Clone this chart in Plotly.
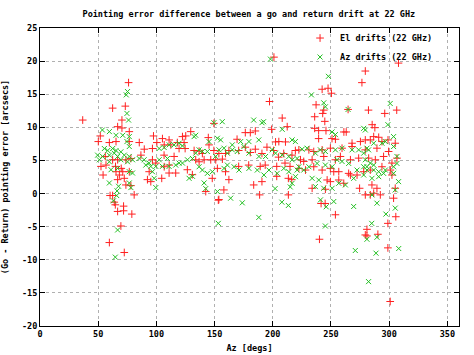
import plotly.graph_objects as go

# El drifts (red +): azimuth [deg], pointing error difference [arcsec]
el_az = [36.7, 76.1, 73.3, 62.4, 70.4, 66.7, 70.4, 76.7, 50.1, 59.6, 65.3, 76.7, 85.3, 97.5, 100.4, 105.2,
         110.9, 118.0, 51.8, 89.6, 96.6, 106.6, 115.2, 86.7, 56.1, 62.4, 66.7, 73.8, 78.1, 52.4, 56.7, 64.9,
         69.8, 65.3, 68.2, 71.1, 76.7, 72.4, 66.7, 73.8, 78.1, 80.9, 54.2, 92.3, 95.2, 104.6, 110.9, 116.6,
         60.2, 62.4, 63.8, 71.8, 64.7, 66.7, 71.8, 78.9, 69.5, 59.6, 72.4,
         106.7, 112.4, 119.5, 96.6, 99.5, 106.7, 111.0, 93.8,
         197.2, 201.0, 208.1, 212.4, 199.0, 122.4, 125.2, 129.5, 123.8, 144.6, 149.4, 169.3, 176.4, 180.7,
         185.0, 202.4, 205.2, 210.9, 124.7, 132.4, 136.7, 139.5, 145.2, 149.4, 153.7, 159.4, 162.3, 170.7,
         176.4, 180.7, 185.0, 190.7, 195.0, 200.7, 205.0, 209.4, 216.5, 219.4, 133.8, 136.7, 141.0, 146.7,
         151.0, 156.7, 152.4, 159.4, 170.7, 179.3, 189.2, 193.5, 203.4, 210.5, 214.8, 126.6, 130.9, 148.0,
         162.3, 183.6, 190.7, 203.4, 213.4, 216.3, 142.4, 158.0, 153.7, 213.4, 153.2, 188.7,
         308.0, 279.5, 276.6, 242.4, 247.5, 250.4, 237.2, 243.8, 242.9, 236.0, 244.7, 264.7, 282.2, 296.2,
         306.5, 236.0, 239.4, 245.7, 261.1, 263.1, 285.4, 287.7, 250.9, 253.8, 239.4, 268.1, 275.3, 279.5,
         283.8, 286.7, 291.0, 293.8, 299.0, 305.2,
         222.4, 231.0, 235.2, 242.4, 249.5, 259.5, 268.1, 279.5, 289.5, 299.5,
         223.8, 226.6, 233.8, 243.8, 253.8, 258.1, 266.7, 273.8, 282.4, 288.1, 295.2, 302.4, 306.7,
         222.4, 228.1, 235.2, 242.4, 249.5, 252.4, 256.7, 265.2, 272.4, 278.1, 283.8, 293.8, 301.0, 302.4,
         246.7, 249.5, 256.7, 261.0, 266.7, 233.8, 245.2, 274.6, 285.2, 289.5, 305.2,
         279.5, 283.8, 286.7, 292.4, 303.8, 241.5, 245.0,
         253.8, 240.1, 280.9, 279.5, 280.9, 290.3, 298.9, 305.7, 298.9, 300.9]
el_err = [11.1, 16.75, 13.2, 12.9, 11.1, 10.1, 9.9, 9.35, 7.85, 7.7, 7.85, 7.85, 7.7, 8.7, 7.7, 8.3,
          8.1, 7.7, 8.7, 6.7, 6.8, 5.8, 5.6, 5.8, 5.6, 5.1, 5.1, 5.1, 5.3, 4.1, 4.3, 4.1,
          3.8, 3.3, 2.8, 3.3, 3.3, 2.3, 2.1, 1.3, 1.2, -0.2, 2.8, 2.1, 1.8, 2.3, 3.1, 3.1,
          -0.3, -0.3, -1.3, -1.9, -1.7, -2.7, -2.6, -3.1, -4.9, -7.4, -8.9,
          7.35, 7.35, 6.8, 5.1, 4.6, 4.05, 4.3, 3.3,
          13.9, 20.6, 11.4, 10.1, 9.7, 8.6, 8.7, 9.35, 7.7, 8.45, 10.6, 8.2, 9.2, 9.2,
          9.45, 7.8, 7.85, 7.8, 6.8, 6.5, 6.4, 6.05, 7.35, 6.5, 6.05, 6.05, 6.5, 6.5,
          7.0, 6.2, 6.7, 6.05, 7.0, 6.5, 5.5, 6.05, 5.8, 6.5, 5.1, 4.8, 5.1, 5.1,
          5.1, 5.2, 3.8, 3.3, 4.1, 4.3, 4.1, 4.3, 4.1, 4.6, 4.1, 3.6, 2.85, 2.3,
          2.1, 1.3, 1.8, 2.6, 2.3, 2.1, 0.3, 0.55, -0.9, -0.2, -1.0, -0.2,
          19.7, 18.5, 16.75, 15.75, 15.9, 15.15, 13.4, 12.6, 12.1, 11.6, 10.9, 12.7, 12.6, 12.1,
          12.6, 9.85, 9.5, 9.5, 9.3, 9.3, 10.4, 9.95, 8.3, 8.2, 8.3, 7.6, 7.85, 8.1,
          8.1, 8.6, 8.5, 7.85, 8.1, 7.6,
          6.6, 6.6, 6.35, 6.6, 6.85, 6.85, 7.1, 6.6, 6.85, 6.35,
          5.1, 4.85, 5.1, 5.6, 5.1, 5.6, 5.1, 5.35, 5.35, 5.1, 5.6, 4.6, 5.35,
          3.8, 3.55, 4.05, 3.55, 3.8, 3.3, 3.3, 3.05, 2.8, 3.3, 3.55, 4.05, 3.55, 2.8,
          2.05, 1.8, 2.05, 1.55, 2.8, 0.8, 0.65, 0.8, 1.3, 0.8, 0.8,
          -0.2, -0.2, 0.05, -0.2, -0.7, -1.5, -1.5,
          -3.2, -6.9, -5.4, -6.25, -6.4, -6.15, -4.5, -3.5, -8.2, -16.3]

# Az drifts (green x)
az_az = [75.2, 74.1, 74.7, 76.1, 53.6, 59.6, 65.3, 74.7, 76.7, 71.1, 55.3, 58.2, 62.4, 65.3, 69.5, 76.7,
         49.5, 53.8, 59.6, 63.8, 66.7, 72.4, 76.7, 51.0, 59.6, 69.5, 75.2, 79.5, 85.2, 89.5, 93.8, 99.5,
         105.2, 110.9, 116.6, 119.5, 90.9, 95.2, 61.0, 66.7, 76.7, 79.5, 59.6, 67.5, 66.2, 65.9, 63.1,
         76.7, 78.1, 99.5, 66.7, 64.7,
         149.4, 156.6, 183.6, 190.7, 192.1, 198.0, 208.1, 216.6, 219.4, 132.4, 133.8, 145.2, 152.4, 155.2,
         165.2, 172.4, 179.5, 188.0, 102.4, 106.7, 111.0, 115.2, 119.5, 122.4,
         102.4, 109.5, 122.4, 126.7, 131.0,
         133.8, 136.7, 139.5, 143.8, 150.9, 153.8, 158.1, 161.0, 165.2, 169.5, 175.2, 179.5, 188.1, 193.8,
         199.5, 202.4, 208.1, 213.8, 216.6, 220.9,
         136.7, 139.5, 143.8, 148.1, 158.1, 161.0, 166.7, 171.0, 179.5, 186.7, 192.4, 196.7, 203.8, 209.5,
         213.8, 220.9, 219.5, 216.6,
         96.6, 98.1, 128.1, 131.0, 141.0, 142.4, 152.4, 163.8, 173.8, 202.0, 207.8, 213.4, 215.0,
         153.2, 188.0,
         247.8, 233.2, 243.8, 245.2, 264.7, 300.9, 298.9, 303.8, 278.1, 279.5, 250.9, 253.8,
         280.9, 282.3, 278.1, 279.5, 283.8, 286.7, 280.9,
         225.2, 229.5, 236.6, 240.9, 245.2, 253.8, 259.5, 268.1, 273.8, 286.7, 293.8, 296.7, 303.8, 306.7,
         222.4, 226.6, 231.0, 238.1, 245.2, 251.0, 255.2, 259.5, 265.2, 272.4, 278.1, 280.9, 286.7, 291.0,
         296.7, 303.8, 306.7,
         233.8, 239.5, 236.6, 243.8, 251.0, 256.7, 262.4, 269.5, 278.1, 285.2, 291.0, 295.2, 303.8, 308.1,
         241.0, 252.4, 269.5, 285.2, 289.5, 305.2, 305.2, 245.9,
         297.2, 245.2, 285.0, 280.9, 289.5, 270.9, 288.7, 308.2, 282.3]
az_err = [15.4, 14.9, 12.1, 11.1, 9.6, 9.35, 8.8, 7.85, 8.6, 8.8, 6.8, 6.5, 6.8, 6.5, 6.3, 7.1,
          5.8, 5.6, 5.8, 6.1, 5.6, 5.8, 5.6, 5.1, 4.8, 5.1, 4.8, 5.1, 5.3, 5.1, 4.6, 4.1,
          4.1, 4.1, 4.3, 4.6, 4.3, 4.1, 3.6, 3.8, 3.3, 3.1, 1.6, 1.1, 0.4, -0.3, -1.1,
          1.6, 0.9, 0.9, -5.5, -9.6,
          10.7, 10.85, 11.1, 10.7, 10.85, 20.3, 9.7, 8.1, 7.85, 8.6, 8.8, 7.85, 8.35, 8.1,
          7.35, 7.85, 7.85, 8.1, 6.8, 6.95, 7.35, 7.35, 7.6, 7.2,
          5.1, 5.3, 4.6, 5.1, 5.3,
          6.1, 6.6, 6.35, 6.35, 5.6, 6.6, 6.85, 6.1, 6.6, 6.35, 7.1, 6.1, 5.6, 5.6,
          6.6, 6.1, 5.85, 5.6, 5.1, 5.3,
          4.05, 3.55, 3.05, 3.3, 3.8, 4.3, 4.05, 3.55, 3.8, 3.55, 2.8, 3.55, 3.05, 3.8,
          3.3, 3.55, 2.55, 1.55,
          3.3, 2.3, 2.3, 2.6, 1.6, 0.75, 0.3, -0.7, -1.4, 0.75, -1.3, -1.8, 1.0,
          -4.5, -3.6,
          17.7, 14.9, 13.7, 13.1, 12.7, 13.6, 10.4, 8.6, 9.85, 9.6, 9.3, 8.9,
          6.85, 6.6, 6.1, 5.1, 4.6, 4.3, 4.05,
          6.7, 6.85, 6.1, 6.6, 6.35, 6.6, 6.85, 6.6, 6.6, 7.6, 7.6, 7.85, 7.1, 5.6,
          4.05, 3.55, 4.05, 4.55, 4.3, 4.05, 5.1, 4.85, 4.55, 3.55, 4.05, 3.55, 3.55, 3.3,
          3.55, 4.05, 4.55,
          2.3, 2.05, 1.05, 0.8, 0.8, 1.55, 1.3, 2.3, 2.8, 2.3, 2.55, 3.05, 3.05, 1.8,
          -0.95, -1.2, -1.95, -0.2, -1.45, 0.55, -2.2, -2.0,
          -3.1, -4.9, -4.5, -6.9, -6.6, -8.6, -9.0, -8.3, -13.3]

x_ticks = [0, 50, 100, 150, 200, 250, 300, 350]
y_ticks = [-20, -15, -10, -5, 0, 5, 10, 15, 20, 25]

FONT = "DejaVu Sans Mono"
fsize = 8.5

fig = go.Figure()
fig.add_trace(go.Scatter(
    x=el_az, y=el_err, mode="markers", name="<b>El drifts (22 GHz)</b>",
    marker=dict(symbol="cross-thin", size=5.5, color="#ff2020",
                line=dict(width=1, color="#ff2020")),
))
fig.add_trace(go.Scatter(
    x=az_az, y=az_err, mode="markers", name="<b>Az drifts (22 GHz)</b>",
    marker=dict(symbol="x-thin", size=5, color="#22c022",
                line=dict(width=1, color="#22c022")),
))

axis_common = dict(
    showline=True, linecolor="black", linewidth=1, mirror="ticks",
    ticks="inside", ticklen=5, tickcolor="black",
    showgrid=True, gridcolor="#b0b0b0", griddash="dot", gridwidth=1,
    zeroline=False,
    tickfont=dict(family=FONT, size=fsize, color="black", weight="bold"),
)

fig.update_xaxes(range=[0, 360], tickvals=x_ticks, ticktext=[str(v) for v in x_ticks],
                 title=dict(text="<b>Az [degs]</b>", font=dict(family=FONT, size=fsize, color="black"),
                            standoff=6),
                 **axis_common)
fig.update_yaxes(range=[-20, 25], tickvals=y_ticks, ticktext=[str(v) for v in y_ticks],
                 title=dict(text="<b>(Go - Return) pointing error [arcsecs]</b>",
                            font=dict(family=FONT, size=fsize, color="black"), standoff=18),
                 **axis_common)

fig.update_layout(
    width=474, height=355,
    margin=dict(l=40, r=15, t=28, b=29, autoexpand=False),
    paper_bgcolor="white", plot_bgcolor="white",
    title=dict(text="<b>Pointing error difference between a go and return drift at 22 GHz</b>",
               x=0.525, xanchor="center", y=0.9606, yanchor="middle",
               font=dict(family=FONT, size=fsize, color="black")),
    showlegend=True,
    legend=dict(x=0.95, xanchor="right", y=1.015, yanchor="top",
                bgcolor="rgba(0,0,0,0)", borderwidth=0,
                font=dict(family=FONT, size=fsize, color="black"),
                tracegroupgap=0, itemwidth=30),
)

fig.write_html("out.html", config={"displayModeBar": False},
               post_script="document.body.style.margin='0';document.body.style.padding='0';")
